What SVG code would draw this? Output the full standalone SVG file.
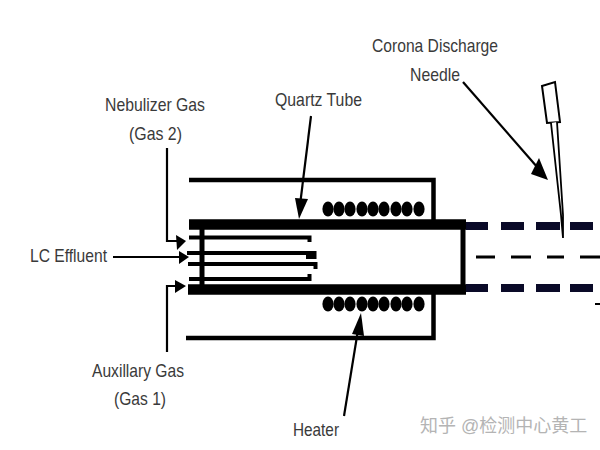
<svg xmlns="http://www.w3.org/2000/svg" width="600" height="450" viewBox="0 0 600 450">
<style>
text{font-family:"Liberation Sans",Arial,sans-serif;font-size:18.500px;fill:#3a3a3a;text-anchor:start}
text.wm{font-family:"Liberation Sans","Noto Sans CJK SC",sans-serif;font-size:18px;fill:#b4b4b4}
.k{fill:none;stroke:#000}
.arrow{fill:none;stroke:#000;stroke-width:2.200}
.head{fill:#000}
.dash{fill:none;stroke:#0a0a28;stroke-width:8}
.coil{fill:#000}
</style>
<defs>
<g id="coilBlob"><ellipse cx="5" cy="0" rx="5.600" ry="7.500" class="coil"/></g>
<g id="coilRow">
<use href="#coilBlob" x="323"/><use href="#coilBlob" x="334"/><use href="#coilBlob" x="345"/><use href="#coilBlob" x="357"/><use href="#coilBlob" x="368"/><use href="#coilBlob" x="379"/><use href="#coilBlob" x="391"/><use href="#coilBlob" x="402"/><use href="#coilBlob" x="414"/>
</g>
</defs>
<rect width="600" height="450" fill="#fff"/>
<g id="housing">
<path class="k" stroke-width="4.500" d="M189 180H433.500V222"/>
<path class="k" stroke-width="4.500" d="M186 338H433.500V292"/>
</g>
<g id="quartz-tube">
<path class="k" stroke-width="10.500" d="M189 224.500H466"/>
<path class="k" stroke-width="10.500" d="M188 289.500H466"/>
<path class="k" stroke-width="5" d="M463 224V290"/>
<path class="k" stroke-width="5" d="M202 224V290"/>
</g>
<g id="inner-capillaries">
<path class="k" stroke-width="4" d="M189 237.500H309.500V242"/>
<path class="k" stroke-width="4" d="M187 253H316"/>
<rect x="306" y="251" width="10.500" height="8" fill="#000"/>
<path class="k" stroke-width="4" d="M188 264H315.500V269"/>
<path class="k" stroke-width="4" d="M189 279H309.500V274"/>
</g>
<g id="heater-coils">
<use href="#coilRow" y="209"/>
<use href="#coilRow" y="304"/>
</g>
<g id="corona-needle">
<path fill="#fff" stroke="#000" stroke-width="2" d="M542 86L555 82L560 122L547 123Z"/>
<path fill="#fff" stroke="#000" stroke-width="1.800" d="M551 123L561 215L563 238L563 215L557 122"/>
</g>
<g id="connectors">
<path class="arrow" d="M167 148V241H179"/>
<path class="head" d="M176 235L186 241L177 250Z"/>
<path class="arrow" d="M113 257H181"/>
<path class="head" d="M179 251L189 257L179 264Z"/>
<path class="arrow" d="M167 352V286H177"/>
<path class="head" d="M175 280L186 286L175 293Z"/>
<path class="arrow" d="M311 116L300 205"/>
<path class="head" d="M295 198L308 199L299 219Z"/>
<path class="arrow" d="M344 416L358 330"/>
<path class="head" d="M361 313L364 336L352 334Z"/>
<path class="arrow" d="M463 82L538 168"/>
<path class="head" d="M539 158L531 174L548 180Z"/>
<path class="dash" d="M466 226H488M501 226H524M536 226H560M570 226H593"/>
<path class="dash" d="M466 288H488M501 288H524M536 288H560M570 288H593"/>
<path class="k" stroke-width="3.200" d="M476 257H495M511 257H531M547 257H564M580 257H600"/>
<path class="k" stroke-width="2" d="M595 304H600"/>
</g>
<g id="labels">
<text x="372" y="52" textLength="126" lengthAdjust="spacingAndGlyphs">Corona Discharge</text>
<text x="410" y="81" textLength="50" lengthAdjust="spacingAndGlyphs">Needle</text>
<text x="275" y="106" textLength="87" lengthAdjust="spacingAndGlyphs">Quartz Tube</text>
<text x="105" y="111" textLength="100" lengthAdjust="spacingAndGlyphs">Nebulizer Gas</text>
<text x="129" y="140" textLength="53" lengthAdjust="spacingAndGlyphs">(Gas 2)</text>
<text x="30" y="262" textLength="77" lengthAdjust="spacingAndGlyphs">LC Effluent</text>
<text x="92" y="377" textLength="92" lengthAdjust="spacingAndGlyphs">Auxillary Gas</text>
<text x="114" y="405" textLength="52" lengthAdjust="spacingAndGlyphs">(Gas 1)</text>
<text x="293" y="436" textLength="46" lengthAdjust="spacingAndGlyphs">Heater</text>
</g>
<text class="wm" x="420" y="432">知乎 @检测中心黄工</text>
</svg>
